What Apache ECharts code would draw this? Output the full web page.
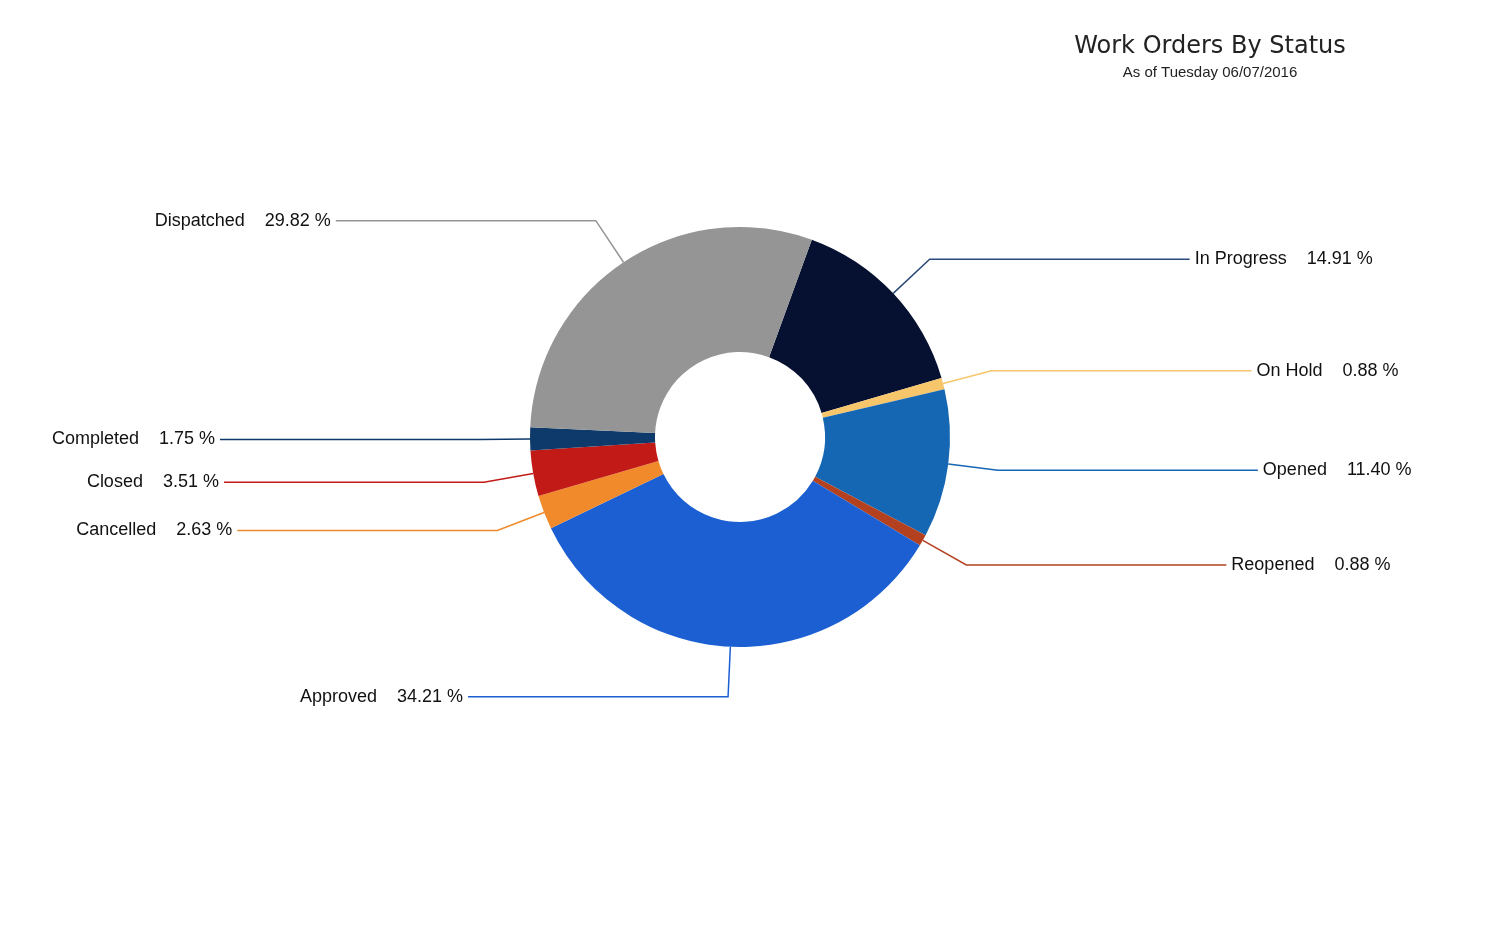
<!DOCTYPE html>
<html><head><meta charset="utf-8">
<script src="https://cdn.jsdelivr.net/npm/echarts@6/dist/echarts.min.js"></script>
<style>html,body{margin:0;padding:0;background:#fff}#c{width:1508px;height:932px}</style>
</head><body><div id="c"></div>
<script>
const categories = ['In Progress','On Hold','Opened','Reopened','Approved','Cancelled','Closed','Completed','Dispatched'];
const counts = [17,1,13,1,39,3,4,2,34];
const colors = ['#061030','#f7c56a','#1567b3','#b3401f','#1b5fd2','#f08a2a','#c11a17','#0e3a6b','#959595'];
const total = counts.reduce((a,b)=>a+b,0);
const chart = echarts.init(document.getElementById('c'));
chart.setOption({
  backgroundColor:'#fff',
  title:{text:'Work Orders By Status',subtext:'As of Tuesday 06/07/2016',left:1205,top:30,textAlign:'center',itemGap:6,
    textStyle:{fontFamily:'DejaVu Sans',fontSize:24,fontWeight:'normal',color:'#222'},
    subtextStyle:{fontFamily:'Liberation Sans',fontSize:15,color:'#222'}},
  series:[{
    type:'pie',center:[740,437],radius:[85,210],startAngle:70,clockwise:true,
    avoidLabelOverlap:true,
    data:categories.map((n,i)=>({name:n,value:counts[i],itemStyle:{color:colors[i]},labelLine:{lineStyle:{color:colors[i]==='#061030'?'#2a4a7a':colors[i]}}})),
    label:{formatter:p=>p.name+'    '+(p.value/total*100).toFixed(2)+' %',fontFamily:'Liberation Sans',fontSize:18,color:'#111'},
    labelLine:{length:50,length2:260,lineStyle:{width:1.5}}
  }]
});
</script></body></html>
